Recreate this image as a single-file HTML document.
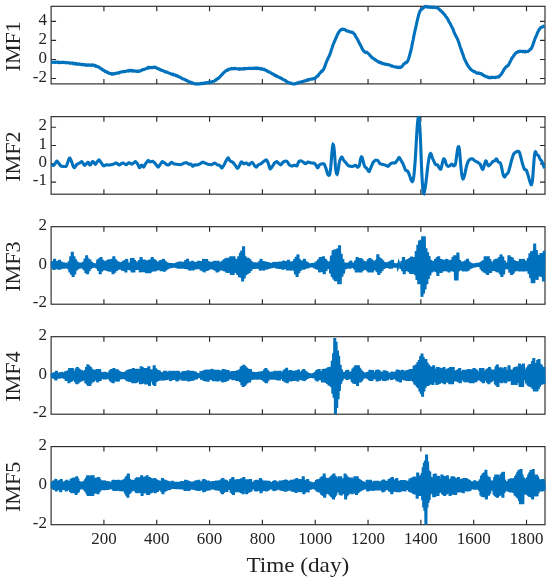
<!DOCTYPE html>
<html><head><meta charset="utf-8"><title>IMF decomposition</title>
<style>
html,body{margin:0;padding:0;background:#fff;}
svg{display:block;}
text{font-family:"Liberation Serif","DejaVu Serif",serif;fill:#222;}
.tk{font-size:17.5px;}
.yl{font-size:22px;}
.xl{font-size:22px;}
</style></head><body>
<svg width="550" height="584" viewBox="0 0 550 584">
<rect width="550" height="584" fill="#fff"/>
<defs>
<clipPath id="c0"><rect x="50.6" y="3.8" width="494.9" height="82.6"/></clipPath>
<clipPath id="c1"><rect x="50.6" y="114.15" width="494.9" height="82.55"/></clipPath>
<clipPath id="c2"><rect x="50.6" y="224.2" width="494.9" height="82.5"/></clipPath>
<clipPath id="c3"><rect x="50.6" y="334.2" width="494.9" height="82.5"/></clipPath>
<clipPath id="c4"><rect x="50.6" y="444.1" width="494.9" height="83.1"/></clipPath>
</defs>
<rect x="51.1" y="6.3" width="493.9" height="77.6" fill="none" stroke="#2a2a2a" stroke-width="1.15"/>
<path d="M103.92 83.9v-5.0M103.92 6.3v5.0M156.75 83.9v-5.0M156.75 6.3v5.0M209.57 83.9v-5.0M209.57 6.3v5.0M262.39 83.9v-5.0M262.39 6.3v5.0M315.22 83.9v-5.0M315.22 6.3v5.0M368.04 83.9v-5.0M368.04 6.3v5.0M420.86 83.9v-5.0M420.86 6.3v5.0M473.69 83.9v-5.0M473.69 6.3v5.0M526.51 83.9v-5.0M526.51 6.3v5.0M51.1 21.3h5.0M545 21.3h-5.0M51.1 40.4h5.0M545 40.4h-5.0M51.1 59.45h5.0M545 59.45h-5.0M51.1 78.5h5.0M545 78.5h-5.0" stroke="#2a2a2a" stroke-width="1.15" fill="none"/>
<text x="47" y="24.5" text-anchor="end" class="tk" textLength="8.49" lengthAdjust="spacingAndGlyphs">4</text>
<text x="47" y="43.6" text-anchor="end" class="tk" textLength="8.49" lengthAdjust="spacingAndGlyphs">2</text>
<text x="47" y="62.65" text-anchor="end" class="tk" textLength="8.49" lengthAdjust="spacingAndGlyphs">0</text>
<text x="47" y="81.7" text-anchor="end" class="tk" textLength="14.14" lengthAdjust="spacingAndGlyphs">-2</text>
<text transform="translate(20.1 46.3) rotate(-90)" text-anchor="middle" class="yl" textLength="50.4" lengthAdjust="spacingAndGlyphs">IMF1</text>
<rect x="51.1" y="116.65" width="493.9" height="77.55" fill="none" stroke="#2a2a2a" stroke-width="1.15"/>
<path d="M103.92 194.2v-5.0M103.92 116.65v5.0M156.75 194.2v-5.0M156.75 116.65v5.0M209.57 194.2v-5.0M209.57 116.65v5.0M262.39 194.2v-5.0M262.39 116.65v5.0M315.22 194.2v-5.0M315.22 116.65v5.0M368.04 194.2v-5.0M368.04 116.65v5.0M420.86 194.2v-5.0M420.86 116.65v5.0M473.69 194.2v-5.0M473.69 116.65v5.0M526.51 194.2v-5.0M526.51 116.65v5.0M51.1 127.2h5.0M545 127.2h-5.0M51.1 145.5h5.0M545 145.5h-5.0M51.1 163.8h5.0M545 163.8h-5.0M51.1 182.05h5.0M545 182.05h-5.0" stroke="#2a2a2a" stroke-width="1.15" fill="none"/>
<text x="47" y="130.4" text-anchor="end" class="tk" textLength="8.49" lengthAdjust="spacingAndGlyphs">2</text>
<text x="47" y="148.7" text-anchor="end" class="tk" textLength="8.49" lengthAdjust="spacingAndGlyphs">1</text>
<text x="47" y="167" text-anchor="end" class="tk" textLength="8.49" lengthAdjust="spacingAndGlyphs">0</text>
<text x="47" y="185.25" text-anchor="end" class="tk" textLength="14.14" lengthAdjust="spacingAndGlyphs">-1</text>
<text transform="translate(20.1 156.62) rotate(-90)" text-anchor="middle" class="yl" textLength="50.4" lengthAdjust="spacingAndGlyphs">IMF2</text>
<rect x="51.1" y="226.7" width="493.9" height="77.5" fill="none" stroke="#2a2a2a" stroke-width="1.15"/>
<path d="M103.92 304.2v-5.0M103.92 226.7v5.0M156.75 304.2v-5.0M156.75 226.7v5.0M209.57 304.2v-5.0M209.57 226.7v5.0M262.39 304.2v-5.0M262.39 226.7v5.0M315.22 304.2v-5.0M315.22 226.7v5.0M368.04 304.2v-5.0M368.04 226.7v5.0M420.86 304.2v-5.0M420.86 226.7v5.0M473.69 304.2v-5.0M473.69 226.7v5.0M526.51 304.2v-5.0M526.51 226.7v5.0M51.1 265.45h5.0M545 265.45h-5.0" stroke="#2a2a2a" stroke-width="1.15" fill="none"/>
<text x="47" y="229.9" text-anchor="end" class="tk" textLength="8.49" lengthAdjust="spacingAndGlyphs">2</text>
<text x="47" y="268.65" text-anchor="end" class="tk" textLength="8.49" lengthAdjust="spacingAndGlyphs">0</text>
<text x="47" y="307.4" text-anchor="end" class="tk" textLength="14.14" lengthAdjust="spacingAndGlyphs">-2</text>
<text transform="translate(20.1 266.65) rotate(-90)" text-anchor="middle" class="yl" textLength="50.4" lengthAdjust="spacingAndGlyphs">IMF3</text>
<rect x="51.1" y="336.7" width="493.9" height="77.5" fill="none" stroke="#2a2a2a" stroke-width="1.15"/>
<path d="M103.92 414.2v-5.0M103.92 336.7v5.0M156.75 414.2v-5.0M156.75 336.7v5.0M209.57 414.2v-5.0M209.57 336.7v5.0M262.39 414.2v-5.0M262.39 336.7v5.0M315.22 414.2v-5.0M315.22 336.7v5.0M368.04 414.2v-5.0M368.04 336.7v5.0M420.86 414.2v-5.0M420.86 336.7v5.0M473.69 414.2v-5.0M473.69 336.7v5.0M526.51 414.2v-5.0M526.51 336.7v5.0M51.1 375.45h5.0M545 375.45h-5.0" stroke="#2a2a2a" stroke-width="1.15" fill="none"/>
<text x="47" y="339.9" text-anchor="end" class="tk" textLength="8.49" lengthAdjust="spacingAndGlyphs">2</text>
<text x="47" y="378.65" text-anchor="end" class="tk" textLength="8.49" lengthAdjust="spacingAndGlyphs">0</text>
<text x="47" y="417.4" text-anchor="end" class="tk" textLength="14.14" lengthAdjust="spacingAndGlyphs">-2</text>
<text transform="translate(20.1 376.65) rotate(-90)" text-anchor="middle" class="yl" textLength="50.4" lengthAdjust="spacingAndGlyphs">IMF4</text>
<rect x="51.1" y="446.6" width="493.9" height="78.1" fill="none" stroke="#2a2a2a" stroke-width="1.15"/>
<path d="M103.92 524.7v-5.0M103.92 446.6v5.0M156.75 524.7v-5.0M156.75 446.6v5.0M209.57 524.7v-5.0M209.57 446.6v5.0M262.39 524.7v-5.0M262.39 446.6v5.0M315.22 524.7v-5.0M315.22 446.6v5.0M368.04 524.7v-5.0M368.04 446.6v5.0M420.86 524.7v-5.0M420.86 446.6v5.0M473.69 524.7v-5.0M473.69 446.6v5.0M526.51 524.7v-5.0M526.51 446.6v5.0M51.1 485.65h5.0M545 485.65h-5.0" stroke="#2a2a2a" stroke-width="1.15" fill="none"/>
<text x="47" y="449.8" text-anchor="end" class="tk" textLength="8.49" lengthAdjust="spacingAndGlyphs">2</text>
<text x="47" y="488.85" text-anchor="end" class="tk" textLength="8.49" lengthAdjust="spacingAndGlyphs">0</text>
<text x="47" y="527.9" text-anchor="end" class="tk" textLength="14.14" lengthAdjust="spacingAndGlyphs">-2</text>
<text transform="translate(20.1 486.85) rotate(-90)" text-anchor="middle" class="yl" textLength="50.4" lengthAdjust="spacingAndGlyphs">IMF5</text>
<polyline clip-path="url(#c0)" points="51.1,62.18 51.6,62.24 52.1,62.43 52.6,62.21 53.1,62.24 53.6,62.29 54.1,62.1 54.6,62.28 55.1,62.35 55.6,62.44 56.1,62.11 56.6,62.22 57.1,62.13 57.6,62.5 58.1,62.45 58.6,62.14 59.1,62.62 59.6,62.62 60.1,62.48 60.6,62.48 61.1,62.27 61.6,62.22 62.1,62.49 62.6,62.27 63.1,62.36 63.6,62.4 64.1,62.32 64.6,62.55 65.1,62.56 65.6,62.78 66.1,62.63 66.6,62.71 67.1,62.66 67.6,62.77 68.1,62.7 68.6,62.66 69.1,63.08 69.6,63.15 70.1,63.14 70.6,63.15 71.1,63.02 71.6,63.05 72.1,63.15 72.6,63.11 73.1,63.53 73.6,63.42 74.1,63.72 74.6,63.56 75.1,63.91 75.6,63.93 76.1,63.58 76.6,63.75 77.1,64.17 77.6,64.02 78.1,64.34 78.6,64.11 79.1,64 79.6,64.34 80.1,64.48 80.6,64.28 81.1,64.25 81.6,64.44 82.1,64.81 82.6,64.77 83.1,64.51 83.6,64.63 84.1,64.62 84.6,64.66 85.1,65.09 85.6,64.84 86.1,65.07 86.6,65.05 87.1,64.94 87.6,65.22 88.1,64.92 88.6,65.17 89.1,64.91 89.6,65.06 90.1,64.96 90.6,64.98 91.1,65.34 91.6,65.25 92.1,65 92.6,65.29 93.1,65 93.6,65.17 94.1,65.52 94.6,65.58 95.1,65.51 95.6,66.16 96.1,65.98 96.6,66.2 97.1,66.66 97.6,66.64 98.1,66.84 98.6,66.96 99.1,67.22 99.6,67.75 100.1,67.89 100.6,68.4 101.1,68.61 101.6,68.98 102.1,69.56 102.6,69.65 103.1,70.02 103.6,70.49 104.1,70.46 104.6,70.73 105.1,71.39 105.6,71.6 106.1,71.56 106.6,71.78 107.1,72.3 107.6,72.64 108.1,72.52 108.6,73.14 109.1,73.34 109.6,73.4 110.1,73.47 110.6,73.44 111.1,73.49 111.6,74.01 112.1,73.7 112.6,73.99 113.1,73.79 113.6,74.06 114.1,73.89 114.6,73.65 115.1,73.48 115.6,73.63 116.1,73.18 116.6,73.14 117.1,73.18 117.6,73.21 118.1,72.97 118.6,72.68 119.1,72.88 119.6,72.4 120.1,72.19 120.6,72.19 121.1,72.16 121.6,71.85 122.1,71.79 122.6,71.78 123.1,71.77 123.6,71.46 124.1,71.48 124.6,71.66 125.1,71.61 125.6,71.36 126.1,71.29 126.6,71.15 127.1,70.84 127.6,70.69 128.1,70.6 128.6,70.95 129.1,70.77 129.6,70.84 130.1,70.34 130.6,70.64 131.1,70.59 131.6,70.76 132.1,70.6 132.6,70.98 133.1,70.56 133.6,70.84 134.1,70.98 134.6,71.11 135.1,71.07 135.6,71.1 136.1,71.19 136.6,71.29 137.1,71.06 137.6,71.27 138.1,71.41 138.6,71.38 139.1,71.09 139.6,71.17 140.1,71.04 140.6,70.7 141.1,70.52 141.6,70.2 142.1,70.1 142.6,69.91 143.1,69.45 143.6,69.53 144.1,69.52 144.6,69.27 145.1,69.02 145.6,68.68 146.1,68.68 146.6,68.44 147.1,68.2 147.6,68.24 148.1,67.7 148.6,67.9 149.1,67.43 149.6,67.65 150.1,67.54 150.6,67.39 151.1,67.6 151.6,67.48 152.1,67.51 152.6,67.64 153.1,67.29 153.6,67.14 154.1,67.27 154.6,67.44 155.1,67.24 155.6,67.32 156.1,67.84 156.6,67.92 157.1,68.06 157.6,68.53 158.1,68.49 158.6,68.9 159.1,68.92 159.6,69.28 160.1,69.71 160.6,70 161.1,70.2 161.6,70.17 162.1,70.47 162.6,70.53 163.1,70.63 163.6,71 164.1,71.36 164.6,71.56 165.1,71.69 165.6,72 166.1,71.86 166.6,71.99 167.1,72.33 167.6,72.43 168.1,72.58 168.6,72.87 169.1,73.15 169.6,73.26 170.1,73.35 170.6,73.79 171.1,74.04 171.6,73.95 172.1,73.94 172.6,74.1 173.1,74.7 173.6,74.46 174.1,74.97 174.6,75.08 175.1,75.12 175.6,75.54 176.1,75.33 176.6,75.58 177.1,75.94 177.6,75.94 178.1,76.57 178.6,76.51 179.1,76.71 179.6,76.91 180.1,77.45 180.6,77.61 181.1,77.94 181.6,78.2 182.1,78.53 182.6,78.85 183.1,78.96 183.6,78.97 184.1,79.35 184.6,79.45 185.1,79.61 185.6,80.09 186.1,80.45 186.6,80.42 187.1,80.69 187.6,80.96 188.1,81.35 188.6,81.49 189.1,81.76 189.6,82.05 190.1,82.09 190.6,82.51 191.1,82.79 191.6,82.6 192.1,83.23 192.6,83.29 193.1,83.13 193.6,83.41 194.1,83.58 194.6,83.79 195.1,83.6 195.6,83.78 196.1,84.01 196.6,84.03 197.1,84.13 197.6,83.89 198.1,83.96 198.6,83.69 199.1,83.89 199.6,83.87 200.1,83.72 200.6,83.7 201.1,83.38 201.6,83.66 202.1,83.64 202.6,83.58 203.1,83.29 203.6,83.36 204.1,83.06 204.6,83.28 205.1,83.18 205.6,82.85 206.1,82.64 206.6,82.74 207.1,82.71 207.6,82.74 208.1,82.52 208.6,82.21 209.1,82.53 209.6,82.07 210.1,82.36 210.6,81.97 211.1,81.97 211.6,82.12 212.1,81.68 212.6,81.53 213.1,81.51 213.6,81.36 214.1,81.13 214.6,80.75 215.1,80.58 215.6,80.06 216.1,79.98 216.6,79.25 217.1,79.02 217.6,78.84 218.1,78.33 218.6,78.12 219.1,77.6 219.6,77.02 220.1,76.65 220.6,75.98 221.1,75.32 221.6,74.82 222.1,74.53 222.6,74.02 223.1,73.14 223.6,72.94 224.1,72.52 224.6,71.87 225.1,71.51 225.6,70.99 226.1,70.86 226.6,70.54 227.1,70.29 227.6,69.7 228.1,69.88 228.6,69.41 229.1,69.16 229.6,69.21 230.1,68.99 230.6,68.89 231.1,68.92 231.6,68.54 232.1,68.72 232.6,68.59 233.1,68.81 233.6,68.78 234.1,68.45 234.6,68.57 235.1,68.44 235.6,68.63 236.1,68.86 236.6,68.94 237.1,68.77 237.6,68.73 238.1,68.71 238.6,68.96 239.1,69.16 239.6,68.8 240.1,69.16 240.6,68.81 241.1,68.89 241.6,68.9 242.1,69.1 242.6,68.87 243.1,68.84 243.6,68.93 244.1,68.63 244.6,68.9 245.1,68.55 245.6,68.7 246.1,68.53 246.6,68.46 247.1,68.58 247.6,68.49 248.1,68.42 248.6,68.4 249.1,68.43 249.6,68.22 250.1,68.23 250.6,68.43 251.1,68.42 251.6,68.35 252.1,68.5 252.6,68.37 253.1,68.48 253.6,68.16 254.1,68.4 254.6,68.42 255.1,68.45 255.6,68.15 256.1,68.14 256.6,68.44 257.1,68.11 257.6,68.54 258.1,68.55 258.6,68.25 259.1,68.39 259.6,68.73 260.1,68.59 260.6,68.59 261.1,69.05 261.6,68.94 262.1,69.21 262.6,68.97 263.1,69.2 263.6,69.44 264.1,69.24 264.6,69.51 265.1,69.96 265.6,70.32 266.1,70.63 266.6,70.49 267.1,70.96 267.6,71.37 268.1,71.52 268.6,71.9 269.1,71.93 269.6,72.15 270.1,72.45 270.6,72.69 271.1,73.23 271.6,73.48 272.1,73.78 272.6,73.83 273.1,74.1 273.6,74.36 274.1,74.93 274.6,75.26 275.1,75.48 275.6,75.32 276.1,75.55 276.6,76.25 277.1,76.26 277.6,76.66 278.1,76.7 278.6,77.02 279.1,77.3 279.6,77.51 280.1,77.85 280.6,77.81 281.1,78.42 281.6,78.76 282.1,78.71 282.6,79.12 283.1,79.54 283.6,79.65 284.1,79.83 284.6,80.09 285.1,80.54 285.6,80.57 286.1,81.29 286.6,81.52 287.1,81.75 287.6,82.1 288.1,82.26 288.6,82.39 289.1,82.71 289.6,82.85 290.1,83.25 290.6,83.3 291.1,83.17 291.6,83.64 292.1,83.7 292.6,83.86 293.1,83.96 293.6,83.8 294.1,84.03 294.6,83.95 295.1,83.74 295.6,83.65 296.1,83.53 296.6,83.23 297.1,83.27 297.6,82.82 298.1,82.84 298.6,82.77 299.1,82.4 299.6,82.42 300.1,82.41 300.6,82.24 301.1,81.88 301.6,82.07 302.1,81.77 302.6,81.44 303.1,81.44 303.6,81.23 304.1,81.06 304.6,80.84 305.1,81 305.6,80.69 306.1,80.59 306.6,80.5 307.1,80.48 307.6,79.87 308.1,80.04 308.6,79.98 309.1,79.61 309.6,79.56 310.1,79.26 310.6,79.22 311.1,79.19 311.6,78.94 312.1,78.91 312.6,79.13 313.1,78.84 313.6,78.69 314.1,78.74 314.6,78.3 315.1,78.21 315.6,77.68 316.1,77.36 316.6,76.59 317.1,76.44 317.6,76.08 318.1,75.22 318.6,75.12 319.1,74.13 319.6,73.64 320.1,72.84 320.6,72.41 321.1,71.95 321.6,71.21 322.1,71.26 322.6,70.65 323.1,70.14 323.6,69.38 324.1,68.24 324.6,66.96 325.1,65.68 325.6,64.21 326.1,62.73 326.6,61.7 327.1,60.33 327.6,59.12 328.1,58.23 328.6,57.11 329.1,56.13 329.6,55.26 330.1,53.77 330.6,52.59 331.1,50.96 331.6,48.94 332.1,47.83 332.6,46.33 333.1,44.52 333.6,43.67 334.1,42.26 334.6,41.14 335.1,40.24 335.6,38.71 336.1,37.68 336.6,36.71 337.1,35.42 337.6,34.21 338.1,33.5 338.6,32.59 339.1,31.78 339.6,30.96 340.1,30.68 340.6,30.15 341.1,29.67 341.6,29.33 342.1,29.4 342.6,29.1 343.1,29.24 343.6,29.39 344.1,29.39 344.6,29.47 345.1,29.87 345.6,30.03 346.1,30.46 346.6,30.57 347.1,31.02 347.6,31.2 348.1,31.28 348.6,31.2 349.1,31.31 349.6,31.85 350.1,31.95 350.6,32.01 351.1,32 351.6,32.09 352.1,32.42 352.6,32.48 353.1,32.77 353.6,33.21 354.1,33.84 354.6,34.27 355.1,35.17 355.6,36.4 356.1,37.23 356.6,38.09 357.1,38.58 357.6,39.52 358.1,40.57 358.6,41.63 359.1,42.71 359.6,43.44 360.1,44.64 360.6,45.37 361.1,46.33 361.6,47.56 362.1,48.42 362.6,49.37 363.1,50.14 363.6,50.96 364.1,51.42 364.6,51.9 365.1,52.35 365.6,52.46 366.1,52.11 366.6,52.23 367.1,52.77 367.6,52.97 368.1,53.45 368.6,53.67 369.1,54.32 369.6,54.78 370.1,55.6 370.6,55.93 371.1,56.59 371.6,57.25 372.1,57.37 372.6,57.89 373.1,58.37 373.6,58.82 374.1,58.94 374.6,59.27 375.1,59.5 375.6,60.25 376.1,60.22 376.6,60.56 377.1,61.12 377.6,61.37 378.1,61.72 378.6,61.76 379.1,62.21 379.6,62.07 380.1,62.36 380.6,62.8 381.1,62.72 381.6,63.04 382.1,63.47 382.6,63.67 383.1,63.65 383.6,63.73 384.1,63.95 384.6,64.22 385.1,64.1 385.6,64.03 386.1,64.38 386.6,64.36 387.1,64.59 387.6,64.68 388.1,64.77 388.6,64.67 389.1,65.02 389.6,64.97 390.1,65.18 390.6,65.43 391.1,65.9 391.6,66.08 392.1,65.96 392.6,66.22 393.1,66.4 393.6,66.55 394.1,66.68 394.6,66.77 395.1,66.73 395.6,66.98 396.1,67.16 396.6,67.09 397.1,67.3 397.6,67.22 398.1,67.09 398.6,67.45 399.1,67.57 399.6,67.33 400.1,67.21 400.6,67.33 401.1,67.09 401.6,66.72 402.1,66.4 402.6,65.65 403.1,65.12 403.6,64.17 404.1,63.9 404.6,63.59 405.1,62.88 405.6,62.59 406.1,62.69 406.6,62.54 407.1,61.73 407.6,61.28 408.1,60.02 408.6,58.99 409.1,57.3 409.6,55.34 410.1,53.51 410.6,51.81 411.1,49.56 411.6,47.4 412.1,44.78 412.6,42.22 413.1,40.01 413.6,37.35 414.1,34.81 414.6,32.45 415.1,30.22 415.6,27.96 416.1,25.86 416.6,23.4 417.1,21.41 417.6,19.19 418.1,17.24 418.6,15.25 419.1,13.45 419.6,12.05 420.1,10.98 420.6,10.03 421.1,9.48 421.6,9.33 422.1,9.09 422.6,8.56 423.1,8.16 423.6,7.57 424.1,7.41 424.6,7.18 425.1,6.64 425.6,6.43 426.1,6.46 426.6,6.66 427.1,6.68 427.6,7.11 428.1,6.74 428.6,6.96 429.1,6.95 429.6,7.28 430.1,7.41 430.6,7.15 431.1,7.13 431.6,7.35 432.1,7.43 432.6,7.61 433.1,7.2 433.6,7.25 434.1,7.31 434.6,7.35 435.1,7.38 435.6,7.64 436.1,7.6 436.6,7.48 437.1,7.62 437.6,7.91 438.1,8.18 438.6,8.88 439.1,9.11 439.6,9.67 440.1,10.25 440.6,10.52 441.1,10.86 441.6,11.62 442.1,12.1 442.6,12.33 443.1,12.98 443.6,13.77 444.1,14.16 444.6,14.66 445.1,15.2 445.6,16.28 446.1,16.84 446.6,17.3 447.1,18.12 447.6,18.94 448.1,19.72 448.6,21.05 449.1,21.87 449.6,22.63 450.1,23.45 450.6,24.58 451.1,25.41 451.6,26.47 452.1,27.39 452.6,28.42 453.1,29.41 453.6,30.73 454.1,32.12 454.6,33.29 455.1,34.66 455.6,35.42 456.1,36.3 456.6,37.37 457.1,38.04 457.6,39.34 458.1,40.43 458.6,42.16 459.1,43.25 459.6,45.14 460.1,46.62 460.6,48.07 461.1,49.15 461.6,50.69 462.1,52.35 462.6,53.47 463.1,55.09 463.6,56.5 464.1,58.06 464.6,59.11 465.1,60.39 465.6,61.17 466.1,62.4 466.6,63.2 467.1,64.44 467.6,64.94 468.1,66.15 468.6,66.59 469.1,67.43 469.6,68.01 470.1,68.39 470.6,69.3 471.1,69.57 471.6,70.03 472.1,70.31 472.6,70.75 473.1,71.1 473.6,71.46 474.1,71.52 474.6,71.92 475.1,71.86 475.6,72.24 476.1,72.51 476.6,72.98 477.1,73.1 477.6,73.16 478.1,72.95 478.6,73.22 479.1,73.46 479.6,73.29 480.1,73.54 480.6,73.63 481.1,73.6 481.6,74.34 482.1,74.55 482.6,74.59 483.1,75.12 483.6,75.29 484.1,75.63 484.6,75.97 485.1,76.09 485.6,76.31 486.1,76.51 486.6,76.83 487.1,76.8 487.6,76.95 488.1,77.39 488.6,77.32 489.1,77.72 489.6,77.58 490.1,77.68 490.6,77.46 491.1,77.69 491.6,77.31 492.1,77.32 492.6,77.28 493.1,77.56 493.6,77.55 494.1,77.27 494.6,77.37 495.1,77.57 495.6,77.43 496.1,77.16 496.6,77.22 497.1,77.16 497.6,77.05 498.1,77 498.6,76.54 499.1,76.57 499.6,75.82 500.1,75.35 500.6,74.91 501.1,74.41 501.6,73.79 502.1,72.86 502.6,72.04 503.1,71.2 503.6,70.1 504.1,69.39 504.6,68.66 505.1,68.06 505.6,67.37 506.1,66.85 506.6,66.51 507.1,66.01 507.6,65.82 508.1,65.32 508.6,64.79 509.1,63.67 509.6,62.78 510.1,61.79 510.6,60.88 511.1,59.89 511.6,58.86 512.1,57.78 512.6,57.32 513.1,56.71 513.6,55.88 514.1,55.13 514.6,54.55 515.1,53.72 515.6,53.39 516.1,53.02 516.6,52.39 517.1,52.2 517.6,52.07 518.1,51.62 518.6,51.87 519.1,51.59 519.6,51.29 520.1,51.18 520.6,51.24 521.1,51.41 521.6,51.51 522.1,51.36 522.6,51.69 523.1,51.44 523.6,51.53 524.1,51.39 524.6,51.85 525.1,51.47 525.6,51.89 526.1,51.74 526.6,51.73 527.1,51.63 527.6,51.29 528.1,51.33 528.6,51.01 529.1,50.52 529.6,50.01 530.1,49.37 530.6,49.32 531.1,48.52 531.6,48.07 532.1,46.76 532.6,45.72 533.1,44.42 533.6,42.59 534.1,41.32 534.6,39.69 535.1,38.34 535.6,37.13 536.1,36.31 536.6,35.05 537.1,33.68 537.6,32.36 538.1,31.48 538.6,30.55 539.1,29.53 539.6,28.99 540.1,28.56 540.6,27.74 541.1,27.5 541.6,27.38 542.1,26.97 542.6,26.84 543.1,26.67 543.6,26.19 544.1,26.14 544.6,25.83" fill="none" stroke="#0072BD" stroke-width="3.1" stroke-linejoin="miter" stroke-miterlimit="4" stroke-linecap="butt"/>
<polyline clip-path="url(#c1)" points="51.45,164.78 51.85,164.89 52.25,165.06 52.65,165.23 53.05,165.39 53.45,165.42 53.85,165.19 54.25,164.71 54.65,164.11 55.05,163.51 55.45,162.91 55.85,162.31 56.25,161.71 56.65,161.25 57.05,161.18 57.45,161.5 57.85,162.07 58.25,162.63 58.65,163.2 59.05,163.75 59.45,164.29 59.85,164.81 60.25,165.33 60.65,165.79 61.05,166.1 61.45,166.25 61.85,166.31 62.25,166.36 62.65,166.41 63.05,166.47 63.45,166.51 63.85,166.54 64.25,166.55 64.65,166.55 65.05,166.55 65.45,166.55 65.85,166.55 66.25,166.25 66.65,165.56 67.05,164.47 67.45,163.27 67.85,162.08 68.25,160.96 68.65,159.91 69.05,158.91 69.45,158.24 69.85,158.16 70.25,158.69 70.65,159.49 71.05,160.29 71.45,161.22 71.85,162.29 72.25,163.49 72.65,164.69 73.05,165.78 73.45,166.62 73.85,167.21 74.25,167.56 74.65,167.52 75.05,167.08 75.45,166.36 75.85,165.64 76.25,165.05 76.65,164.62 77.05,164.36 77.45,164.15 77.85,163.93 78.25,163.72 78.65,163.51 79.05,163.28 79.45,163.03 79.85,162.76 80.25,162.5 80.65,162.23 81.05,161.96 81.45,161.72 81.85,161.78 82.25,162.12 82.65,162.74 83.05,163.35 83.45,163.96 83.85,164.58 84.25,165.1 84.65,165.28 85.05,165.13 85.45,164.73 85.85,164.33 86.25,163.93 86.65,163.53 87.05,163.13 87.45,162.73 87.85,162.4 88.25,162.47 88.65,162.95 89.05,163.75 89.45,164.55 89.85,165.03 90.25,165.03 90.65,164.55 91.05,163.88 91.45,163.21 91.85,162.55 92.25,161.88 92.65,161.54 93.05,161.6 93.45,162.06 93.85,162.59 94.25,163.13 94.65,163.66 95.05,164.19 95.45,164.3 95.85,163.98 96.25,163.23 96.65,162.52 97.05,161.91 97.45,161.41 97.85,160.98 98.25,160.54 98.65,160.11 99.05,159.99 99.45,160.21 99.85,160.78 100.25,161.38 100.65,161.98 101.05,162.57 101.45,163.15 101.85,163.71 102.25,164.27 102.65,164.82 103.05,165.38 103.45,165.79 103.85,165.95 104.25,165.85 104.65,165.64 105.05,165.43 105.45,165.21 105.85,165 106.25,164.85 106.65,164.79 107.05,164.82 107.45,164.87 107.85,164.93 108.25,164.98 108.65,165.03 109.05,165.05 109.45,165.01 109.85,164.94 110.25,164.86 110.65,164.78 111.05,164.7 111.45,164.62 111.85,164.54 112.25,164.46 112.65,164.36 113.05,164.23 113.45,164.07 113.85,163.91 114.25,163.75 114.65,163.59 115.05,163.43 115.45,163.27 115.85,163.11 116.25,163.07 116.65,163.19 117.05,163.46 117.45,163.78 117.85,164.1 118.25,164.42 118.65,164.74 119.05,164.89 119.45,164.86 119.85,164.63 120.25,164.39 120.65,164.15 121.05,163.91 121.45,163.67 121.85,163.43 122.25,163.19 122.65,163.07 123.05,163.1 123.45,163.27 123.85,163.47 124.25,163.67 124.65,163.87 125.05,164.07 125.45,164.27 125.85,164.47 126.25,164.55 126.65,164.45 127.05,164.17 127.45,163.85 127.85,163.53 128.25,163.21 128.65,162.89 129.05,162.75 129.45,162.81 129.85,163.05 130.25,163.32 130.65,163.59 131.05,163.85 131.45,164.1 131.85,164.16 132.25,164.01 132.65,163.69 133.05,163.37 133.45,163.05 133.85,162.73 134.25,162.41 134.65,162.09 135.05,161.77 135.45,161.71 135.85,161.89 136.25,162.32 136.65,162.75 137.05,163.19 137.45,163.71 137.85,164.39 138.25,165.24 138.65,166.16 139.05,167.08 139.45,167.51 139.85,167.45 140.25,166.89 140.65,166.34 141.05,165.78 141.45,165.27 141.85,165.13 142.25,165.38 142.65,165.98 143.05,166.58 143.45,166.93 143.85,166.81 144.25,166.22 144.65,165.42 145.05,164.62 145.45,163.91 145.85,163.28 146.25,162.75 146.65,162.22 147.05,161.68 147.45,161.15 147.85,160.67 148.25,160.51 148.65,160.65 149.05,161.05 149.45,161.45 149.85,161.74 150.25,161.85 150.65,161.78 151.05,161.65 151.45,161.52 151.85,161.38 152.25,161.25 152.65,161.26 153.05,161.45 153.45,161.82 153.85,162.22 154.25,162.62 154.65,163.02 155.05,163.42 155.45,163.86 155.85,164.35 156.25,164.88 156.65,165.42 157.05,165.95 157.45,166.48 157.85,166.95 158.25,167.04 158.65,166.75 159.05,166.15 159.45,165.55 159.85,164.96 160.25,164.38 160.65,163.82 161.05,163.27 161.45,162.71 161.85,162.16 162.25,161.8 162.65,161.72 163.05,161.92 163.45,162.18 163.85,162.45 164.25,162.72 164.65,163.01 165.05,163.32 165.45,163.64 165.85,163.96 166.25,164.28 166.65,164.6 167.05,164.86 167.45,164.98 167.85,164.97 168.25,164.89 168.65,164.81 169.05,164.62 169.45,164.3 169.85,163.85 170.25,163.38 170.65,162.92 171.05,162.46 171.45,162.26 171.85,162.33 172.25,162.67 172.65,163 173.05,163.33 173.45,163.62 173.85,163.81 174.25,163.91 174.65,163.97 175.05,164.03 175.45,164.09 175.85,164.15 176.25,164.21 176.65,164.27 177.05,164.33 177.45,164.38 177.85,164.42 178.25,164.46 178.65,164.5 179.05,164.54 179.45,164.58 179.85,164.62 180.25,164.66 180.65,164.67 181.05,164.6 181.45,164.44 181.85,164.22 182.25,164.01 182.65,163.8 183.05,163.58 183.45,163.39 183.85,163.23 184.25,163.11 184.65,163 185.05,162.89 185.45,162.79 185.85,162.68 186.25,162.67 186.65,162.77 187.05,163.01 187.45,163.27 187.85,163.54 188.25,163.81 188.65,164.07 189.05,164.22 189.45,164.24 189.85,164.13 190.25,164.01 190.65,163.98 191.05,164.19 191.45,164.64 191.85,165.24 192.25,165.84 192.65,166.16 193.05,166.16 193.45,165.82 193.85,165.42 194.25,165.06 194.65,164.85 195.05,164.8 195.45,164.85 195.85,164.9 196.25,164.96 196.65,165.01 197.05,165.03 197.45,164.96 197.85,164.82 198.25,164.63 198.65,164.45 199.05,164.26 199.45,164.07 199.85,163.87 200.25,163.64 200.65,163.38 201.05,163.12 201.45,162.85 201.85,162.58 202.25,162.32 202.65,162.17 203.05,162.18 203.45,162.34 203.85,162.53 204.25,162.71 204.65,162.9 205.05,163.09 205.45,163.26 205.85,163.43 206.25,163.59 206.65,163.75 207.05,163.91 207.45,164.07 207.85,164.23 208.25,164.34 208.65,164.41 209.05,164.45 209.45,164.49 209.85,164.53 210.25,164.57 210.65,164.61 211.05,164.65 211.45,164.68 211.85,164.61 212.25,164.44 212.65,164.17 213.05,163.9 213.45,163.64 213.85,163.37 214.25,163.15 214.65,163.11 215.05,163.25 215.45,163.52 215.85,163.78 216.25,164.05 216.65,164.32 217.05,164.56 217.45,164.76 217.85,164.92 218.25,165.05 218.65,165.19 219.05,165.32 219.45,165.45 219.85,165.69 220.25,166.07 220.65,166.62 221.05,167.22 221.45,167.78 221.85,167.94 222.25,167.69 222.65,167.08 223.05,166.46 223.45,165.85 223.85,165.22 224.25,164.52 224.65,163.74 225.05,162.91 225.45,162.08 225.85,161.24 226.25,160.47 226.65,159.77 227.05,159.15 227.45,158.55 227.85,158.03 228.25,157.98 228.65,158.4 229.05,159.2 229.45,160 229.85,160.66 230.25,161.09 230.65,161.31 231.05,161.44 231.45,161.58 231.85,161.71 232.25,161.84 232.65,162.08 233.05,162.46 233.45,162.97 233.85,163.5 234.25,164.04 234.65,164.57 235.05,165.1 235.45,165.65 235.85,166.2 236.25,166.77 236.65,167.34 237.05,167.9 237.45,168.24 237.85,168.17 238.25,167.68 238.65,167 239.05,166.32 239.45,165.56 239.85,164.72 240.25,163.8 240.65,162.88 241.05,162.16 241.45,161.88 241.85,162.04 242.25,162.44 242.65,162.84 243.05,163.24 243.45,163.54 243.85,163.66 244.25,163.61 244.65,163.48 245.05,163.35 245.45,163.21 245.85,163.08 246.25,163.06 246.65,163.18 247.05,163.46 247.45,163.78 247.85,164.1 248.25,164.42 248.65,164.74 249.05,164.8 249.45,164.56 249.85,164.07 250.25,163.63 250.65,163.27 251.05,162.94 251.45,162.61 251.85,162.33 252.25,162.37 252.65,162.73 253.05,163.34 253.45,163.96 253.85,164.57 254.25,165.17 254.65,165.69 255.05,166.15 255.45,166.55 255.85,166.95 256.25,167.1 256.65,166.93 257.05,166.42 257.45,165.82 257.85,165.25 258.25,164.83 258.65,164.57 259.05,164.44 259.45,164.3 259.85,164.17 260.25,164.04 260.65,163.88 261.05,163.65 261.45,163.35 261.85,163 262.25,162.65 262.65,162.31 263.05,161.96 263.45,161.63 263.85,161.32 264.25,161.04 264.65,160.78 265.05,160.51 265.45,160.24 265.85,159.98 266.25,159.95 266.65,160.25 267.05,160.88 267.45,161.6 267.85,162.36 268.25,163.35 268.65,164.56 269.05,165.96 269.45,167.36 269.85,168.38 270.25,168.8 270.65,168.62 271.05,168.22 271.45,167.81 271.85,167.31 272.25,166.73 272.65,166.06 273.05,165.39 273.45,164.73 273.85,164.06 274.25,163.43 274.65,162.94 275.05,162.6 275.45,162.35 275.85,162.1 276.25,161.86 276.65,161.69 277.05,161.76 277.45,162.05 277.85,162.48 278.25,162.91 278.65,163.35 279.05,163.73 279.45,164.07 279.85,164.35 280.25,164.63 280.65,164.81 281.05,164.71 281.45,164.32 281.85,163.75 282.25,163.18 282.65,162.62 283.05,162.18 283.45,161.87 283.85,161.71 284.25,161.55 284.65,161.4 285.05,161.24 285.45,161.17 285.85,161.17 286.25,161.25 286.65,161.33 287.05,161.51 287.45,161.9 287.85,162.5 288.25,163.22 288.65,163.94 289.05,164.51 289.45,164.91 289.85,165.13 290.25,165.35 290.65,165.56 291.05,165.77 291.45,165.98 291.85,166.05 292.25,166.01 292.65,165.85 293.05,165.69 293.45,165.53 293.85,165.37 294.25,165.24 294.65,165.22 295.05,165.33 295.45,165.51 295.85,165.7 296.25,165.88 296.65,165.92 297.05,165.54 297.45,164.76 297.85,163.72 298.25,162.68 298.65,161.89 299.05,161.4 299.45,161.21 299.85,161.08 300.25,160.95 300.65,160.86 301.05,160.89 301.45,161.05 301.85,161.28 302.25,161.51 302.65,161.75 303.05,162 303.45,162.28 303.85,162.59 304.25,162.9 304.65,163.2 305.05,163.51 305.45,163.61 305.85,163.51 306.25,163.2 306.65,162.9 307.05,162.59 307.45,162.29 307.85,162.14 308.25,162.13 308.65,162.25 309.05,162.36 309.45,162.48 309.85,162.6 310.25,162.72 310.65,162.82 311.05,162.91 311.45,162.96 311.85,163 312.25,163.04 312.65,163.08 313.05,163.12 313.45,163.16 313.85,163.2 314.25,163.29 314.65,163.53 315.05,163.93 315.45,164.45 315.85,164.97 316.25,165.58 316.65,166.29 317.05,167.12 317.45,167.67 317.85,167.68 318.25,167.13 318.65,166.33 319.05,165.53 319.45,164.94 319.85,164.57 320.25,164.42 320.65,164.27 321.05,164.11 321.45,163.96 321.85,163.86 322.25,163.82 322.65,163.82 323.05,163.82 323.45,163.82 323.85,163.88 324.25,164.27 324.65,165 325.05,166 325.45,167 325.85,168.08 326.25,169.3 326.65,170.65 327.05,172.05 327.45,173.42 327.85,174.38 328.25,174.95 328.65,175.15 329.05,175.35 329.45,174.99 329.85,173.61 330.25,171.22 330.65,168.02 331.05,163.86 331.45,158.75 331.85,153.26 332.25,148.95 332.65,145.84 333.05,144.48 333.45,144.82 333.85,146.87 334.25,150.22 334.65,154.99 335.05,161.16 335.45,166.63 335.85,170.36 336.25,172.36 336.65,173.91 337.05,174.23 337.45,173.3 337.85,171.52 338.25,169.35 338.65,166.81 339.05,163.95 339.45,161.79 339.85,160.32 340.25,159.55 340.65,158.78 341.05,158.01 341.45,157.29 341.85,157.09 342.25,157.42 342.65,158.22 343.05,159.02 343.45,159.76 343.85,160.38 344.25,160.9 344.65,161.36 345.05,161.82 345.45,162.28 345.85,162.75 346.25,163.23 346.65,163.73 347.05,164.23 347.45,164.73 347.85,165.2 348.25,165.55 348.65,165.78 349.05,165.9 349.45,166.02 349.85,166.12 350.25,166.21 350.65,166.27 351.05,166.32 351.45,166.38 351.85,166.43 352.25,166.48 352.65,166.46 353.05,166.35 353.45,166.16 353.85,165.94 354.25,165.73 354.65,165.52 355.05,165.3 355.45,165.31 355.85,165.52 356.25,165.96 356.65,166.39 357.05,166.82 357.45,167.11 357.85,167.11 358.25,166.84 358.65,166.44 359.05,166.04 359.45,164.88 359.85,162.97 360.25,160.48 360.65,158.66 361.05,157.49 361.45,156.87 361.85,157 362.25,157.86 362.65,159.41 363.05,160.94 363.45,162.45 363.85,163.95 364.25,165.35 364.65,166.35 365.05,166.97 365.45,167.3 365.85,167.64 366.25,167.97 366.65,168.38 367.05,168.88 367.45,169.48 367.85,170.1 368.25,170.71 368.65,171.33 369.05,171.45 369.45,171.04 369.85,170.09 370.25,169.09 370.65,168.1 371.05,167.14 371.45,166.2 371.85,165.27 372.25,164.35 372.65,163.43 373.05,162.59 373.45,161.96 373.85,161.52 374.25,161.18 374.65,160.85 375.05,160.52 375.45,160.29 375.85,160.18 376.25,160.18 376.65,160.18 377.05,160.18 377.45,160.29 377.85,160.61 378.25,161.13 378.65,161.75 379.05,162.36 379.45,162.98 379.85,163.48 380.25,163.81 380.65,163.97 381.05,164.06 381.45,164.15 381.85,164.25 382.25,164.34 382.65,164.43 383.05,164.53 383.45,164.62 383.85,164.71 384.25,164.81 384.65,164.9 385.05,165 385.45,165.13 385.85,165.3 386.25,165.52 386.65,165.73 387.05,165.94 387.45,166.16 387.85,166.33 388.25,166.26 388.65,165.95 389.05,165.45 389.45,164.95 389.85,164.45 390.25,164.04 390.65,163.74 391.05,163.55 391.45,163.4 391.85,163.24 392.25,163.09 392.65,162.98 393.05,162.92 393.45,162.91 393.85,162.91 394.25,162.91 394.65,162.91 395.05,162.91 395.45,162.71 395.85,162.31 396.25,161.71 396.65,161.11 397.05,160.51 397.45,159.89 397.85,159.24 398.25,158.55 398.65,157.85 399.05,157.57 399.45,157.75 399.85,158.39 400.25,159.07 400.65,159.75 401.05,160.42 401.45,161.09 401.85,161.76 402.25,162.42 402.65,163.09 403.05,163.88 403.45,164.81 403.85,165.87 404.25,166.95 404.65,168.03 405.05,169.1 405.45,169.87 405.85,170.34 406.25,170.49 406.65,170.64 407.05,170.8 407.45,170.98 407.85,171.44 408.25,172.18 408.65,173.18 409.05,174.18 409.45,175.22 409.85,176.32 410.25,177.49 410.65,178.69 411.05,179.89 411.45,180.79 411.85,181.38 412.25,181.66 412.65,181.32 413.05,180.23 413.45,178.36 413.85,175.73 414.25,172.09 414.65,167.45 415.05,162.45 415.45,156.65 415.85,150.03 416.25,142.6 416.65,135.56 417.05,129 417.45,123.69 417.85,119.92 418.25,117.89 418.65,117.64 419.05,118.5 419.45,121.96 419.85,127.18 420.25,134.64 420.65,143.76 421.05,154.55 421.45,165.08 421.85,174.15 422.25,180.99 422.65,186.81 423.05,190.78 423.45,193.19 423.85,193.5 424.25,192.46 424.65,190.53 425.05,188.55 425.45,186.07 425.85,183.12 426.25,179.69 426.65,176.24 427.05,172.77 427.45,169.27 427.85,165.85 428.25,162.84 428.65,160.25 429.05,158 429.45,156.06 429.85,154.67 430.25,153.84 430.65,153.52 431.05,153.85 431.45,154.86 431.85,156.25 432.25,157.47 432.65,158.52 433.05,159.42 433.45,160.31 433.85,161.2 434.25,162.09 434.65,162.97 435.05,163.85 435.45,164.43 435.85,164.73 436.25,164.73 436.65,164.73 437.05,164.73 437.45,164.87 437.85,165.28 438.25,165.96 438.65,166.76 439.05,167.56 439.45,168.23 439.85,168.76 440.25,169.16 440.65,169.28 441.05,168.64 441.45,167.23 441.85,165.33 442.25,163.54 442.65,161.91 443.05,160.44 443.45,159.35 443.85,158.86 444.25,158.98 444.65,159.5 445.05,160.36 445.45,161.55 445.85,162.95 446.25,164.1 446.65,164.93 447.05,165.42 447.45,165.82 447.85,166.18 448.25,166.35 448.65,166.31 449.05,166.11 449.45,165.91 449.85,165.67 450.25,165.36 450.65,164.98 451.05,164.58 451.45,164.21 451.85,164.14 452.25,164.39 452.65,164.91 453.05,165.43 453.45,165.79 453.85,165.88 454.25,165.69 454.65,165.37 455.05,165.05 455.45,163.83 455.85,161.73 456.25,158.73 456.65,155.78 457.05,152.97 457.45,150.31 457.85,147.95 458.25,146.73 458.65,146.65 459.05,147.51 459.45,149.86 459.85,153.7 460.25,158.91 460.65,163.68 461.05,168 461.45,171.92 461.85,174.92 462.25,177.01 462.65,178.26 463.05,178.81 463.45,178.56 463.85,177.54 464.25,176.35 464.65,174.87 465.05,173.09 465.45,171.09 465.85,169.09 466.25,167.28 466.65,165.75 467.05,164.47 467.45,163.27 467.85,162.12 468.25,161.24 468.65,160.62 469.05,160.22 469.45,159.82 469.85,159.42 470.25,159.12 470.65,158.95 471.05,158.91 471.45,158.91 471.85,158.91 472.25,158.91 472.65,159.01 473.05,159.23 473.45,159.58 473.85,159.95 474.25,160.32 474.65,160.69 475.05,161 475.45,161.24 475.85,161.41 476.25,161.58 476.65,161.74 477.05,161.92 477.45,162.14 477.85,162.39 478.25,162.65 478.65,162.92 479.05,163.19 479.45,163.45 479.85,163.88 480.25,164.54 480.65,165.45 481.05,166.45 481.45,167.44 481.85,168.24 482.25,168.86 482.65,169.32 483.05,169.14 483.45,168.25 483.85,166.67 484.25,165.08 484.65,163.7 485.05,162.55 485.45,161.55 485.85,161 486.25,161.17 486.65,162.05 487.05,163.13 487.45,164.08 487.85,164.9 488.25,165.54 488.65,165.8 489.05,165.67 489.45,165.27 489.85,164.87 490.25,164.47 490.65,164.06 491.05,163.6 491.45,163.11 491.85,162.59 492.25,162.07 492.65,161.66 493.05,161.38 493.45,161.23 493.85,161.11 494.25,160.98 494.65,160.86 495.05,160.55 495.45,160.03 495.85,159.31 496.25,158.94 496.65,159.09 497.05,159.75 497.45,160.55 497.85,161.31 498.25,161.85 498.65,162.18 499.05,162.34 499.45,162.49 499.85,162.64 500.25,162.94 500.65,163.75 501.05,165.09 501.45,166.81 501.85,168.63 502.25,170.55 502.65,172.55 503.05,174.17 503.45,175.37 503.85,176.16 504.25,176.77 504.65,176.89 505.05,176.5 505.45,175.75 505.85,175.09 506.25,174.57 506.65,174.18 507.05,173.85 507.45,173.52 507.85,173.12 508.25,172.36 508.65,171.25 509.05,169.85 509.45,168.45 509.85,167.01 510.25,165.5 510.65,163.93 511.05,162.33 511.45,160.74 511.85,159.28 512.25,157.96 512.65,156.76 513.05,155.56 513.45,154.52 513.85,153.77 514.25,153.3 514.65,152.97 515.05,152.64 515.45,152.31 515.85,152.04 516.25,151.83 516.65,151.68 517.05,151.52 517.45,151.37 517.85,151.24 518.25,151.26 518.65,151.43 519.05,151.71 519.45,152.4 519.85,153.5 520.25,155 520.65,156.51 521.05,158.06 521.45,159.64 521.85,161.24 522.25,162.84 522.65,164.31 523.05,165.61 523.45,166.76 523.85,167.88 524.25,168.9 524.65,169.55 525.05,169.82 525.45,169.82 525.85,169.82 526.25,170.13 526.65,170.87 527.05,172.03 527.45,173.31 527.85,174.6 528.25,175.92 528.65,177.29 529.05,178.69 529.45,180.09 529.85,181.41 530.25,182.59 530.65,183.64 531.05,184.64 531.45,184.64 531.85,183.64 532.25,181.64 532.65,178.44 533.05,173.77 533.45,167.93 533.85,162.35 534.25,157.64 534.65,154.36 535.05,152.29 535.45,151.82 535.85,152.09 536.25,153.09 536.65,153.99 537.05,154.63 537.45,155 537.85,155.2 538.25,155.4 538.65,155.86 539.05,156.63 539.45,157.71 539.85,158.7 540.25,159.44 540.65,159.93 541.05,160.33 541.45,160.75 541.85,161.42 542.25,162.34 542.65,163.48 543.05,164.58 543.45,165.63 543.85,166.61 544.25,167.41 544.65,167.88" fill="none" stroke="#0072BD" stroke-width="3.1" stroke-linejoin="miter" stroke-miterlimit="4" stroke-linecap="butt"/>
<polyline clip-path="url(#c2)" points="51.1,265.45 51.55,262.88 52.31,268.01 53.07,261.09 53.87,269.94 54.59,258.97 55.44,269.01 56.26,261.22 57.08,268.55 57.97,261.59 58.78,269.57 59.44,259.88 60.21,269.22 61.15,261.65 61.83,268.64 62.76,262.54 63.56,268.59 64.22,262.76 65.03,268.28 65.92,262.86 66.64,267.89 67.39,263.29 68.39,268.96 69.07,261.27 69.92,272.33 70.81,256.41 71.45,274.72 72.3,251.7 73.15,276.85 73.96,256.3 74.7,274.51 75.49,259.46 76.31,270.36 77.1,261.64 77.89,268.97 78.81,262.7 79.41,268.36 80.33,262.71 81.07,267.75 81.8,262.9 82.8,268.4 83.59,262.04 84.21,270.16 85.12,258.67 85.95,273.09 86.66,255.34 87.6,274.12 88.28,258.7 89.1,271.18 89.79,259.61 90.63,268.71 91.5,262 92.31,267.8 93.14,263.4 93.89,267.15 94.68,263.8 95.6,267.46 96.27,263.43 97.11,268.63 97.83,259.53 98.63,270.95 99.41,258.45 100.23,274.12 101.02,257.15 101.82,271.47 102.61,259.76 103.5,270.11 104.19,260.95 105.08,270.22 105.79,261.56 106.68,270.56 107.61,260.09 108.2,271.16 109.02,259.28 109.86,271.55 110.59,259.24 111.45,271.75 112.29,258.89 113.05,274.12 113.84,256.25 114.73,272.64 115.4,259.4 116.41,270.84 116.98,260.79 117.8,269.68 118.59,261.96 119.54,269.18 120.23,263 121.09,269.5 122,262.01 122.59,270.63 123.53,260.79 124.2,270.78 125.18,260.05 125.87,272.3 126.74,258.97 127.42,269.85 128.36,262.82 129.11,269.1 129.87,262.55 130.64,270.35 131.5,258.06 132.22,272.3 133.13,258.06 133.87,272.3 134.62,260.14 135.39,269.91 136.36,261.52 137,269.75 137.98,261.56 138.79,269.91 139.49,260.09 140.36,272.3 141.07,257.15 141.88,270.45 142.61,260.05 143.41,272.14 144.34,259.6 144.99,272.04 145.93,260.41 146.58,273.21 147.61,261.03 148.31,273.21 149.17,259.88 149.97,273.21 150.63,259.65 151.4,271.76 152.21,257.15 153.21,271.07 153.99,259.15 154.69,271.41 155.58,260.36 156.33,270.54 157.19,261.54 157.92,270.01 158.61,261.59 159.52,270.17 160.23,260.33 161.09,271.11 161.8,259.94 162.7,271.1 163.51,258.97 164.28,271.75 165.13,260.97 165.86,270.31 166.66,262.33 167.4,269.07 168.22,262.9 169.15,268.17 170.02,263.23 170.8,268.01 171.48,263.35 172.4,267.46 173.1,263.63 173.88,267.28 174.8,263.56 175.6,267.29 176.2,262.89 177.05,268.11 177.93,262.31 178.76,268.66 179.48,261.7 180.36,268.46 181.05,261.76 181.85,268.66 182.6,262.22 183.56,267.9 184.41,261.94 185.19,268.76 185.82,260.12 186.69,269.22 187.51,258.97 188.38,269.29 189.09,261.71 189.97,270.48 190.64,262.21 191.38,270.38 192.31,260.79 193.02,270.48 193.83,261.9 194.69,269.15 195.57,262.95 196.19,269.39 196.98,261.95 197.86,268.68 198.71,260.79 199.45,268.93 200.37,262.33 201.04,270.29 201.88,261.11 202.74,271.15 203.57,258.97 204.21,272.3 205.17,259.46 205.98,270.95 206.65,258.97 207.38,270.53 208.4,261.42 209.09,269.51 210,261.99 210.72,269.08 211.5,262.4 212.22,269.02 213.22,261.77 213.88,269.89 214.69,260.79 215.49,270.6 216.22,261.07 217.11,272.3 217.98,260.79 218.8,271.48 219.39,261.79 220.31,270.13 221.05,261.77 222,269.63 222.74,260.59 223.5,271.01 224.41,259.33 225.03,271.51 225.82,258.35 226.78,272.56 227.45,257.89 228.41,272.96 229.07,258.18 229.81,272.83 230.82,256.25 231.44,275.03 232.2,256.65 233.16,275.03 233.93,256.25 234.58,272.92 235.61,258.88 236.24,272.77 237.04,258.84 237.79,274.83 238.81,256.27 239.6,277.09 240.42,252.88 241.14,277.78 241.79,250.5 242.62,281.39 243.58,246.25 244.19,278.51 245.11,256.25 245.81,275.06 246.82,257.83 247.41,274.05 248.21,257.95 249.2,272.95 249.83,259.38 250.82,270.96 251.44,261.57 252.41,268.93 253.15,262.36 253.79,268.67 254.76,262.41 255.52,268.5 256.31,262.78 257.11,268.37 257.83,262.81 258.8,268.79 259.42,261.4 260.38,270.48 261.04,258.97 261.79,269.52 262.68,261.21 263.41,270.48 264.39,261.41 265.22,269.53 265.91,261.88 266.6,269.26 267.49,262.19 268.32,268.75 269.1,262.8 269.86,268.19 270.72,262.9 271.6,268.01 272.38,263.04 273.21,267.59 273.81,262.06 274.76,267.52 275.53,262.3 276.41,268.34 277.09,262.19 277.99,268.59 278.71,261.95 279.53,268.76 280.28,261.75 281.17,268.58 281.99,261.88 282.82,269.57 283.43,260.79 284.39,269.15 285.19,261.97 285.87,269.03 286.7,261.25 287.47,270.48 288.39,259.88 289.02,269.4 289.87,261.64 290.61,270.48 291.46,261.93 292.19,269.04 293.2,261.25 293.96,270.65 294.78,259.02 295.49,274.31 296.21,256.89 297.07,276.85 297.99,254.43 298.63,273.18 299.52,259.31 300.19,270.79 300.98,260.63 301.82,269.07 302.67,260.66 303.48,269.57 304.34,258.97 305,268.86 305.95,261.44 306.69,268.39 307.62,262.5 308.18,267.87 309.08,263.74 309.98,267.18 310.68,263.73 311.59,266.93 312.27,263.4 313.13,267.3 314,263.14 314.72,268.21 315.44,262.72 316.39,269.06 317.05,261.08 317.94,269.69 318.63,259.33 319.6,272.3 320.31,257.15 321.07,270.79 322,261.59 322.76,272.09 323.39,256.25 324.25,274.12 325.19,258.87 325.98,270.99 326.61,260.69 327.48,268.57 328.22,262.66 329.1,268.75 329.98,261.38 330.59,273.42 331.47,255.68 332.24,276.99 333.15,250.36 333.81,279.4 334.69,249.57 335.44,281.11 336.23,249.28 337.13,281.1 337.96,248.29 338.71,284.12 339.53,245.34 340.19,284.12 341.19,253.82 341.92,276.55 342.8,259.12 343.43,273.71 344.42,262.63 345.22,269.17 345.82,263.72 346.66,268.42 347.52,263.06 348.31,267.38 349.09,262.4 349.99,268.66 350.7,260.79 351.58,267.69 352.2,262.93 353.11,267.52 353.99,262.66 354.71,269.23 355.58,260.73 356.25,272.3 357.14,257.15 357.86,271.83 358.72,259.04 359.55,272.3 360.27,258.06 361.11,272.3 361.95,258.8 362.67,270.71 363.48,260.78 364.21,269.86 365.1,262.39 365.9,269.66 366.6,261.36 367.6,271.14 368.3,259.39 369,272.3 369.86,258.06 370.61,271.85 371.49,259.35 372.24,272.3 373.02,260.61 373.9,270.34 374.63,261.92 375.57,270.16 376.4,259.91 377.15,272.05 377.83,254.43 378.81,275.03 379.56,257.56 380.34,272.87 381.1,258.73 381.99,270.87 382.7,260.34 383.48,268.84 384.24,262.14 385.12,268.1 385.79,262.47 386.73,267.84 387.56,262.67 388.41,267.81 389.15,261.73 389.79,268.66 390.76,260.92 391.43,268.66 392.42,259.88 393.1,267.5 393.82,263.31 394.74,267.44 395.42,263.62 396.33,267.01 397.01,263.55 397.8,266.62 398.67,263.68 399.62,266.94 400.24,263.35 400.98,268.82 401.95,261.08 402.59,271.11 403.46,257.15 404.2,274.12 405.07,259.81 405.89,271.22 406.66,259.83 407.49,270.48 408.26,259.15 409.08,272.1 409.86,258.05 410.71,273.91 411.45,256.6 412.19,273.93 413.03,257.45 413.84,273.32 414.72,257.09 415.56,275.3 416.28,250.94 417,279.84 417.9,244.69 418.8,284.27 419.53,240.6 420.21,284.33 421.02,239.67 422.02,296.85 422.7,236.25 423.44,293.7 424.28,236.25 425.09,289.4 425.95,248.2 426.8,284.11 427.54,252.25 428.29,278.86 429.05,255.97 429.93,275.45 430.81,260.07 431.61,272.35 432.2,261.23 433.11,270.91 433.9,261.81 434.6,271.36 435.5,259.11 436.18,272.17 437.14,257.24 437.88,275.94 438.71,256.25 439.49,272.7 440.19,259.12 441.16,272.98 441.89,259.24 442.67,271.48 443.56,260.86 444.29,271.22 445.06,259.89 445.84,271.23 446.73,258.97 447.42,271.48 448.22,259.95 449.04,272.3 449.92,261.65 450.68,269.24 451.56,259.85 452.27,271.04 453.05,256.81 453.83,271.72 454.73,255.34 455.55,280.48 456.36,255.82 457.07,280.48 457.88,252.61 458.67,271.23 459.55,260.08 460.23,269.82 461.17,261.77 462.02,270.37 462.77,261.94 463.41,271.39 464.41,261.38 465.19,269.93 465.88,260.47 466.63,271.39 467.48,258.97 468.29,270.55 469.04,261.74 470.01,268.93 470.67,263.01 471.45,268.05 472.39,263.53 473.03,267.35 473.84,263.73 474.66,267.18 475.43,263.5 476.31,266.78 477.1,263.19 477.98,266.65 478.76,263.03 479.4,266.8 480.23,262.45 481.21,269.22 482,261.46 482.61,271.16 483.39,260.41 484.24,272.43 485.21,256.25 486,273.49 486.74,256.8 487.6,275.03 488.26,256.25 489.12,272.5 489.81,258.97 490.59,272.77 491.46,261.55 492.26,270.4 493.06,262.23 493.88,270.78 494.65,259.5 495.57,271.16 496.36,258.8 497.01,272.3 497.98,258.48 498.67,270.94 499.58,257.2 500.27,274.09 500.98,254.43 501.89,276.85 502.69,256.53 503.55,274.35 504.42,260.74 505.19,269.11 505.97,264.64 506.6,268.28 507.58,262.71 508.39,269.4 508.99,255.34 509.81,272.7 510.69,256.71 511.57,275.03 512.34,257.56 513.11,273.53 513.99,260.2 514.6,271.41 515.45,261.13 516.19,271.19 517.15,261.41 517.9,269.49 518.63,261.32 519.56,271.39 520.36,258.97 520.98,270.9 521.91,261.33 522.63,271.39 523.41,258.97 524.29,271.39 525.14,260.97 525.95,269.55 526.79,260.53 527.44,271.12 528.4,258.17 529.07,273.94 529.95,253.34 530.66,278.19 531.57,251.25 532.2,283.21 533.16,250.68 533.88,283.21 534.68,243.52 535.4,279.32 536.32,249.94 537.21,279.89 537.89,254.8 538.72,276.42 539.5,257.34 540.3,276.39 541.03,253.16 541.85,277.02 542.6,253.91 543.49,281.39 544.23,250.79" fill="none" stroke="#0072BD" stroke-width="3.0" stroke-linejoin="miter" stroke-miterlimit="4" stroke-linecap="butt"/>
<polyline clip-path="url(#c3)" points="51.1,375.45 51.48,373.94 52.06,377.25 52.63,373.36 53.46,378.35 54.07,372.51 54.7,378.92 55.29,372.77 55.93,380.48 56.53,370.79 57.23,378.44 57.85,372.97 58.49,378.52 59.16,372.82 59.82,378.24 60.56,372.5 61.17,378.15 61.79,372.06 62.57,378.14 63.08,372.54 63.7,378.3 64.39,372.7 65.11,379.16 65.64,371.31 66.31,380.94 66.93,371.01 67.61,380.65 68.23,370.26 68.94,383.21 69.65,368.06 70.37,381.84 70.87,369.22 71.66,381.42 72.32,368.06 72.95,380 73.56,370.98 74.1,380.14 74.75,371.03 75.48,382.22 76.1,368.48 76.84,384.12 77.33,367.15 78.02,383.35 78.74,368.49 79.4,382.17 80,369.61 80.76,381.5 81.3,370.18 81.92,381.09 82.56,371.61 83.32,379.69 83.92,370.98 84.54,380.29 85.2,370.15 85.85,383.18 86.5,367.12 87.1,384.44 87.88,364.43 88.46,385.94 89.09,365.87 89.85,385.94 90.52,366.99 91.01,383.53 91.74,368.76 92.42,382.12 93.01,369.66 93.6,381.56 94.26,370.05 94.96,380.36 95.65,370.56 96.24,380.46 96.93,368.97 97.66,382.3 98.19,370.78 98.88,380.96 99.6,368.97 100.17,380.94 100.9,371.79 101.57,378.96 102.17,372.27 102.69,378.51 103.5,372.83 104.16,379.36 104.75,371.88 105.33,379.38 106.02,372.34 106.62,378.7 107.28,372.78 108.06,378.2 108.58,372.59 109.18,379.42 109.99,370.75 110.49,381.27 111.14,369.25 111.96,382.31 112.59,369.05 113.24,383.21 113.91,368.06 114.57,381.24 115.03,370.11 115.78,380.91 116.35,369.24 117.11,381.76 117.73,369.69 118.41,381.39 119.01,371.17 119.6,379.44 120.29,371.87 120.93,379.08 121.55,372.37 122.19,379.22 122.86,372.21 123.58,378.79 124.19,372.7 124.93,378.7 125.53,371.87 126.2,380.12 126.82,370.72 127.48,381.04 128.14,369.9 128.86,381.45 129.47,369.67 130.07,382.01 130.69,369.01 131.34,380.29 131.97,371 132.63,383.21 133.36,368.06 134.05,380.71 134.59,369.07 135.21,383.21 136.02,368.96 136.48,382.76 137.13,368.73 137.89,381.5 138.48,369.93 139.15,381.56 139.81,369.1 140.43,384.12 141.18,366.25 141.69,383.98 142.52,367.29 143.12,383.39 143.82,367.99 144.35,383.55 144.93,367.99 145.73,384.31 146.32,368.65 146.96,384.39 147.6,367.95 148.25,384.46 148.83,366.25 149.5,385.94 150.27,369.74 150.95,381.71 151.56,369.48 152.15,381.78 152.75,369.25 153.55,384.71 154.19,365.34 154.76,385.94 155.5,368.24 156.1,381.87 156.68,369.57 157.28,381.16 158.05,370.05 158.62,380.62 159.32,370.59 159.95,380.31 160.61,372.26 161.2,378.7 161.83,372.36 162.63,380.48 163.27,372.41 163.81,380.33 164.48,370.96 165.19,380.17 165.92,370.79 166.53,379.84 167.21,372.08 167.75,379.22 168.47,372.17 169.15,379.26 169.76,370.79 170.4,381.03 171.05,371.21 171.58,380 172.4,371.45 172.89,379.87 173.68,370.79 174.34,379.44 174.94,371.77 175.49,379.8 176.21,371.19 176.9,381.39 177.58,370.79 178.2,380.63 178.73,371.46 179.53,379.01 180.03,372.8 180.75,378.95 181.44,372.98 182.16,380.25 182.75,371.52 183.33,380.61 184.1,371.24 184.72,380.35 185.3,371.19 185.93,380.66 186.6,371.95 187.34,379.53 188,370.25 188.62,381.39 189.26,371.92 189.94,380.8 190.45,370.74 191.11,380.89 191.9,370.96 192.54,380.62 193.14,371.14 193.8,380.06 194.33,371.65 195.09,379.28 195.68,371.93 196.44,379.44 197.08,373.2 197.77,377.83 198.3,373.41 199,377.57 199.56,373.44 200.28,377.97 200.89,371.51 201.57,379.68 202.23,371 202.94,379.86 203.46,370.81 204.19,380.89 204.91,369.95 205.46,381.2 206.06,369.95 206.85,381.46 207.47,369.67 208.17,381.75 208.66,370.18 209.34,379.5 209.97,371.35 210.67,379.72 211.25,368.97 211.95,379.78 212.69,369.39 213.24,381.1 213.96,369.76 214.63,381.24 215.18,369.87 215.91,381.2 216.6,370.05 217.18,381.38 217.92,369.83 218.45,381.22 219.14,370.03 219.71,380.01 220.36,370.94 221.01,380.35 221.75,370.76 222.31,382.3 223.06,368.97 223.63,381.79 224.36,369.39 225.01,381.84 225.7,369.74 226.34,381.14 226.92,370.52 227.63,380.79 228.15,370.09 228.92,379.36 229.5,371.9 230.15,379.06 230.8,372.13 231.47,378.72 232.18,371.08 232.86,380.26 233.4,371.1 234,379.96 234.66,371.37 235.38,379.97 235.94,370.97 236.74,380.77 237.36,370.42 238.02,380.24 238.53,370.5 239.27,380.97 240.01,369.47 240.5,382.21 241.28,366.65 241.89,385.31 242.59,365.79 243.2,386.85 243.87,364.79 244.56,385.94 245.03,366.18 245.73,384.33 246.34,367.59 247.06,383.22 247.65,368.61 248.3,382.11 248.98,369.56 249.6,382.3 250.38,368.97 250.96,379.93 251.56,371.82 252.28,379.15 252.9,371.82 253.6,379.67 254.23,372.06 254.95,379.45 255.49,372.2 256.21,379.44 256.8,372.02 257.53,379.67 258.09,372.05 258.75,379.39 259.4,371.68 260.1,379.12 260.82,371.94 261.36,379.58 262.05,371.26 262.69,380.07 263.4,371.15 264.03,381.41 264.7,369.24 265.36,382.41 265.85,368.06 266.51,383.21 267.25,369.81 267.86,381.08 268.61,371.25 269.18,379.39 269.76,372 270.45,379.05 271.14,372.19 271.77,379.56 272.45,371.66 273,379.42 273.71,371.63 274.3,379.45 274.99,370.79 275.74,379.57 276.34,371.19 276.92,379.79 277.61,370.99 278.2,380.32 278.86,370.93 279.52,380.32 280.16,370.81 280.95,378.66 281.61,372.3 282.24,378.9 282.83,371.98 283.46,380.79 284.17,369.94 284.71,381.57 285.47,369.26 286,382.53 286.65,367.7 287.29,383.21 288.1,370.72 288.71,380.04 289.35,371.26 289.91,381.46 290.63,370.13 291.29,381.1 291.96,370.77 292.48,380.59 293.26,371.21 293.94,380.86 294.57,370.83 295.09,380.62 295.91,370.62 296.53,380.78 297.11,370.34 297.79,381.39 298.42,369.52 299.08,379.61 299.74,371.88 300.33,379.08 301,372.47 301.63,380.05 302.27,370.7 302.95,380.45 303.67,368.97 304.22,381.03 304.91,370.5 305.5,379.76 306.26,371.58 306.79,378.74 307.46,372.67 308.12,378.32 308.84,373.14 309.53,377.84 310.08,373.59 310.73,377.71 311.48,373.98 312.14,377.23 312.82,373.54 313.35,377.98 313.98,373.17 314.65,378.17 315.24,372.23 316,380.05 316.62,370.41 317.24,381.33 317.87,369.53 318.57,380.1 319.17,368.97 319.86,380.24 320.52,371.07 321.12,380.22 321.73,371.02 322.5,382.37 323.13,369.13 323.75,382.36 324.4,368.91 325.12,382.5 325.78,369.07 326.47,383 327.01,368.24 327.61,384.03 328.38,367.25 329.03,385.33 329.72,367.07 330.22,385.98 330.94,366.78 331.63,387.1 332.29,360.73 332.85,393.8 333.59,353.17 334.1,397.63 334.77,338.06 335.45,414.12 336.07,341.83 336.69,408.01 337.47,350.53 338.09,399.23 338.63,355.77 339.4,391 340.12,364.84 340.76,383.9 341.36,369.29 341.96,380.82 342.61,371.89 343.34,378.51 343.98,372.28 344.63,378.13 345.29,371.91 345.84,378.59 346.55,370.48 347.15,379.97 347.77,369.88 348.39,379.01 349.19,371.89 349.73,379.07 350.45,372.03 351.01,379.34 351.63,371.33 352.3,382.09 352.94,368.54 353.62,383.34 354.25,367.32 354.95,383.85 355.66,365.34 356.27,382.04 356.94,368.81 357.52,385.94 358.32,365.34 358.9,381.31 359.43,367.94 360.23,382.4 360.85,369.55 361.41,381.22 362.04,371.04 362.72,379.36 363.44,372.49 364.01,378.05 364.77,373.23 365.37,378.17 366.08,372.94 366.68,378.33 367.25,372.23 368.01,378.79 368.66,371.93 369.25,380.17 369.97,369.88 370.53,381.03 371.2,370.3 371.97,380.94 372.49,370.02 373.25,379.25 373.81,371.87 374.52,379.02 375.19,371.85 375.81,379.17 376.43,370.12 377.16,381.39 377.8,369.52 378.37,380.99 379,370.37 379.71,380.74 380.36,371.62 380.96,379.36 381.72,371.98 382.25,379.16 383,371.86 383.62,380.83 384.21,370.25 384.82,381.03 385.59,370.73 386.18,380.49 386.92,370.98 387.55,380.06 388.05,372.69 388.7,378.35 389.38,372.67 390.1,378.63 390.72,372.55 391.47,379.84 392.11,371.61 392.58,379.37 393.29,372.42 393.9,378.57 394.69,372.89 395.23,378.85 395.84,371.66 396.59,380.36 397.24,369.52 397.91,381.33 398.47,370.2 399.21,381.23 399.79,370.6 400.45,382.3 401.21,371.79 401.77,379.61 402.42,369.88 402.98,379.54 403.73,370.76 404.34,380.05 405.08,371.09 405.73,380.38 406.35,370.65 407.02,380.84 407.6,369.96 408.35,380.95 408.98,369.81 409.56,380.97 410.31,369.06 410.9,380.29 411.49,369.83 412.23,380.65 412.88,369.12 413.46,381.64 414.18,365.59 414.78,384.54 415.49,365.33 416.02,385.13 416.72,364.19 417.28,386.85 417.98,362.16 418.58,388.19 419.33,360.01 419.91,391.44 420.7,356.04 421.27,394.06 422,353.52 422.57,396.85 423.17,357.15 423.85,391.46 424.52,363.06 425.25,387.6 425.8,358.97 426.56,385.34 427.06,362.5 427.74,386.07 428.51,364.64 429.04,385.15 429.64,366.15 430.39,384.08 431.07,367.65 431.69,383.61 432.26,366.76 432.93,385.03 433.7,365.34 434.35,382.16 434.99,368.98 435.63,382.03 436.26,368.73 436.84,385.03 437.53,367.02 438.26,384.23 438.92,367.23 439.53,383.74 440.14,368.05 440.69,382.79 441.46,368.76 442,382.5 442.68,368.1 443.32,383.16 444.02,367.15 444.6,384.12 445.35,369.69 445.91,381.07 446.63,369.97 447.37,382.44 447.86,368.5 448.53,382.76 449.28,367.97 449.8,384.12 450.53,367.15 451.17,381.1 451.82,370.08 452.56,384.12 453.14,367.15 453.78,381.5 454.46,370.59 455.16,380.02 455.77,370.74 456.46,381.07 457.1,370.02 457.7,381.77 458.24,369.33 458.95,382.35 459.71,368.06 460.29,383.21 460.93,371.37 461.67,379.76 462.21,371.45 462.79,379.7 463.46,369.84 464.11,381.78 464.92,370.04 465.57,382.3 466.1,369.83 466.71,382.12 467.48,369.64 468.02,381.87 468.64,368.97 469.38,382.33 469.95,369.35 470.62,383.21 471.39,369.22 472.02,381.83 472.7,369.64 473.24,383.21 473.99,368.06 474.59,381.77 475.16,368.72 475.83,382.17 476.59,369.75 477.13,380.66 477.91,371.92 478.49,378.62 479.18,372.07 479.72,380.01 480.37,368.06 481.05,381.5 481.69,368.8 482.44,382.24 483,368.06 483.6,383.21 484.3,370.49 485.05,380.54 485.61,370.74 486.33,380.36 486.96,369.02 487.48,382.58 488.14,368.31 488.82,384.12 489.57,367.15 490.22,382.36 490.76,369.23 491.49,381.73 492.1,369.92 492.69,380.39 493.35,372.49 494.08,380.72 494.68,369.57 495.4,384.5 496.09,366.38 496.69,385.63 497.26,364.43 497.92,386.85 498.62,367.66 499.34,382.75 499.88,368.49 500.6,381.87 501.17,367.23 501.89,383.14 502.53,368.28 503.16,382.26 503.9,368.69 504.45,381.99 505.17,367.15 505.71,383.21 506.41,369.99 507.07,380.14 507.79,370.22 508.31,381.52 508.99,365.34 509.69,380.95 510.41,369.83 510.93,381.26 511.64,369.61 512.32,385.03 512.88,369.97 513.61,384.14 514.29,367.56 514.88,384.72 515.56,367.08 516.2,385.07 516.82,366.52 517.39,382.34 518.22,368.72 518.87,382.78 519.45,363.52 520.07,386.85 520.71,364.91 521.4,384.96 522,364.78 522.61,386.85 523.42,363.52 524,379.99 524.63,372.12 525.32,379.03 525.89,369.45 526.52,383.31 527.22,367.44 527.9,385.25 528.58,365.57 529.08,386.55 529.73,364.27 530.56,386.57 531.09,364.02 531.71,387.42 532.48,361 533.03,388.95 533.82,358.06 534.37,391.39 534.96,363.23 535.72,387.53 536.29,362.97 536.91,391.39 537.69,360.14 538.28,389.21 538.98,358.97 539.5,386.81 540.25,363.78 540.79,384.91 541.56,365.32 542.09,384.37 542.77,367.22 543.49,383.89 544.12,367.15 544.78,384.12" fill="none" stroke="#0072BD" stroke-width="3.0" stroke-linejoin="miter" stroke-miterlimit="4" stroke-linecap="butt"/>
<polyline clip-path="url(#c4)" points="51.1,485.65 51.45,482.99 51.89,487.88 52.44,481.98 53.06,489.24 53.53,480.9 54.2,489.92 54.66,480.34 55.14,489.65 55.82,478.97 56.25,491.39 56.96,480.81 57.4,489.71 57.9,481.34 58.52,489.89 59,480.64 59.55,490.23 60.1,479.97 60.71,492.3 61.2,478.97 61.9,490.24 62.38,481.59 62.93,489.24 63.44,482.57 64.03,488.78 64.59,481.99 65.08,489.88 65.68,480.91 66.24,491.39 66.8,479.88 67.39,490.14 67.87,481.31 68.38,490.09 68.94,481.2 69.57,490.09 70.04,480.79 70.56,492 71.11,478.88 71.74,493.21 72.2,478.25 72.75,493.1 73.34,477.79 73.86,492.99 74.44,477.62 75.03,493.08 75.6,477.53 76.14,495.03 76.73,476.25 77.3,492.85 77.81,478.59 78.38,492.22 78.81,481.08 79.37,489.73 80,481.81 80.45,488.69 81.08,482.57 81.55,488.29 82.15,481.62 82.8,489.26 83.23,481.74 83.8,489.13 84.29,481.14 84.98,490.63 85.41,479.26 85.97,492.2 86.57,477.47 87.17,494.22 87.64,475.34 88.22,495.94 88.77,476.46 89.4,492.94 89.95,478.08 90.36,495.94 90.96,475.34 91.6,493.93 92.09,477.54 92.69,495.94 93.13,475.34 93.68,494 94.25,477.99 94.78,493.26 95.33,478.52 95.98,493 96.49,477.83 96.97,493.5 97.57,477.44 98.07,494.12 98.71,477.15 99.18,491.89 99.75,479.13 100.38,490.42 100.92,480.44 101.34,490.04 101.99,480.75 102.51,489.98 103,480.89 103.61,490.01 104.21,480.4 104.8,490.17 105.34,481.17 105.85,490.02 106.42,481.12 106.94,490.02 107.48,481.28 107.96,489.93 108.55,481.42 109.17,488.78 109.64,482.3 110.19,488.84 110.7,481.99 111.35,489.1 111.94,481.62 112.48,489.33 112.99,480.2 113.53,490.54 114.03,479.88 114.63,491.03 115.09,480.02 115.67,490.83 116.34,480.16 116.84,490.91 117.31,481.47 117.93,489.55 118.45,479.88 118.98,489.65 119.54,481.5 120.19,491.04 120.7,480.31 121.18,491.03 121.79,480.33 122.39,491.24 122.86,479.7 123.43,491.48 123.94,479.57 124.54,491.53 125.02,478.77 125.56,493.62 126.19,476.88 126.67,495.68 127.3,475.51 127.86,497.75 128.37,473.52 129,493.98 129.53,478.95 130.1,493.11 130.61,480.06 131.12,491.39 131.62,479.93 132.16,491.1 132.79,480.01 133.37,490.53 133.93,480.29 134.46,490.07 135.05,479.82 135.6,491.46 136.01,478.3 136.58,492.86 137.17,477.27 137.77,493.3 138.26,477.53 138.8,492.9 139.39,477.23 139.96,491.8 140.55,478.75 140.95,492.32 141.61,475.34 142.06,495.94 142.65,479.19 143.29,491.68 143.74,477.19 144.36,493.34 144.89,476.55 145.4,491.25 145.98,479.27 146.51,491.3 147.1,475.34 147.59,495.03 148.17,479.58 148.73,495.03 149.35,476.95 149.8,493.51 150.29,478.07 150.9,493.26 151.43,478.41 152.01,492.53 152.5,478.96 153.2,492.29 153.67,478.69 154.19,492.46 154.81,478.06 155.25,493.21 155.92,479.21 156.44,491.43 157,479.72 157.45,491.84 158.12,480.34 158.69,490.53 159.24,480.91 159.81,490.01 160.34,481.09 160.87,490.51 161.45,480.9 161.88,492.09 162.44,478.06 162.99,494.12 163.51,479.29 164.12,492.31 164.66,479.8 165.29,491.3 165.7,480.33 166.4,490.76 166.81,480.57 167.49,490.26 167.9,480.99 168.51,490.06 169.12,481.27 169.67,489.91 170.18,482.37 170.76,488.88 171.21,482.23 171.8,488.61 172.37,480.79 173,488.35 173.49,481.67 174.03,489 174.51,481.98 175.16,488.89 175.72,482.19 176.23,488.85 176.82,481.83 177.33,489.19 177.86,481.94 178.35,488.86 178.97,482.3 179.6,488.96 180.08,481.77 180.7,489.32 181.26,481.29 181.67,489.47 182.21,481.14 182.86,489.05 183.36,481.8 183.89,489.27 184.53,481.51 185,491.03 185.59,479.88 186.12,490.66 186.61,480.34 187.17,490.59 187.74,480.66 188.37,491.03 188.84,481.16 189.45,490.28 190,481.69 190.49,489.43 191.06,481.9 191.57,489.48 192.1,481.99 192.74,489.32 193.2,482.18 193.82,489.72 194.3,481.28 194.86,489.98 195.49,480.8 195.98,490.15 196.51,480.26 197.16,490.59 197.6,480.23 198.25,490.56 198.81,479.88 199.35,491.03 199.81,481.44 200.39,489.64 200.89,481.77 201.53,489.4 202.07,481.44 202.58,490.23 203.25,479.61 203.66,492.3 204.21,478.97 204.85,491.59 205.32,479.96 205.92,490.62 206.47,480.77 207.09,490.61 207.54,480.7 208.13,490.46 208.68,480.8 209.21,490.4 209.83,481.55 210.26,489.7 210.85,481.75 211.39,489.46 212,481.88 212.46,489.19 213.05,481.13 213.65,489.51 214.19,481.25 214.8,489.63 215.3,481.07 215.79,490.16 216.35,480.62 216.85,490.5 217.46,480.56 217.95,490.34 218.52,480.83 219.17,490.63 219.68,480.45 220.21,490.79 220.7,480.53 221.29,492.61 221.88,478.84 222.5,494.12 222.91,478.06 223.46,492.96 224.01,479.46 224.63,491.75 225.14,480.15 225.8,491.25 226.23,479.81 226.89,491.88 227.4,481.46 227.9,489.81 228.48,481.35 228.95,489.77 229.57,481.37 230.19,489.94 230.68,479.04 231.27,492.73 231.77,478.52 232.34,493.59 232.83,477.15 233.46,495.03 234.06,479.45 234.47,492.14 235.07,479.66 235.68,491.47 236.21,480.06 236.74,492.23 237.25,479.19 237.86,491.79 238.42,479.69 238.94,491.55 239.47,479.76 240.09,492.07 240.55,479.02 241.06,492.88 241.66,478.35 242.16,493.17 242.82,477.99 243.24,494.12 243.84,477.15 244.45,490.52 245.03,481.07 245.5,490.55 246.08,481.15 246.64,494.12 247.12,479.42 247.64,492.28 248.32,479.68 248.75,492.59 249.37,479.21 249.88,491.8 250.53,478.97 251.08,491.32 251.56,481.92 252.08,489.44 252.59,482.46 253.24,489.25 253.78,482.19 254.29,489.45 254.85,480.66 255.47,491.17 256.01,480.13 256.49,491.34 257.02,479.71 257.54,490.28 258.11,480.77 258.71,490.63 259.27,480.45 259.75,490.85 260.42,478.06 260.98,493.21 261.51,479.5 262.04,491.48 262.64,480.45 263.08,490.88 263.65,480.67 264.2,490.76 264.73,480.5 265.31,490.99 265.91,480.56 266.37,491.39 267.04,480.76 267.48,490.73 268.07,480.82 268.55,490.44 269.22,481 269.78,489.11 270.32,482.2 270.89,489.09 271.36,482.18 271.95,489.02 272.51,482.2 272.97,490.26 273.53,481.1 274.17,491.03 274.68,480.25 275.2,490.39 275.79,480.9 276.27,490.44 276.79,481.77 277.41,489.36 277.89,482.02 278.6,489.27 279.05,481.96 279.56,489.56 280.09,480.69 280.74,490.51 281.27,480.69 281.82,490.63 282.39,480.46 282.87,490.92 283.47,480.44 283.98,491.02 284.63,480.12 285.13,491.75 285.7,479.52 286.16,491.31 286.76,480.04 287.38,490.91 287.84,481.25 288.36,490.15 288.91,481.01 289.59,490.39 290,480.84 290.62,490.48 291.12,479.83 291.72,491.51 292.3,479.83 292.79,491.56 293.34,479.85 293.89,491.84 294.45,479.44 294.96,490.36 295.53,480.67 296.12,492.85 296.73,478.06 297.26,489.97 297.84,481.09 298.28,491.77 298.84,479.61 299.43,491.89 299.98,479.12 300.54,492.26 301.1,480.13 301.61,490.96 302.11,479.45 302.79,491.36 303.25,476.25 303.84,494.12 304.37,480.3 304.85,492.64 305.52,480.23 305.95,492.07 306.6,479.89 307.15,490.96 307.67,478.97 308.2,492.3 308.78,481.14 309.38,489.7 309.93,481.93 310.42,489.68 311,481.85 311.59,489.06 312.12,482.66 312.7,487.89 313.23,483.28 313.66,488.32 314.31,482.44 314.79,489.25 315.36,481.86 315.91,489.86 316.49,480.18 317.04,491.47 317.54,479.4 318.18,491.81 318.63,479.32 319.24,492.08 319.84,479.11 320.29,492.78 320.89,477.53 321.5,494.55 321.97,476.54 322.53,495.15 323.03,476.4 323.67,495.84 324.17,473.52 324.66,497.75 325.35,477.64 325.78,494.1 326.31,478.42 326.96,493.15 327.53,479.3 327.98,492.99 328.54,478.03 329.07,494.25 329.67,477.74 330.19,495.38 330.83,476.65 331.36,496.61 331.88,475.67 332.44,497.81 332.9,474.71 333.52,499.57 334.01,473.52 334.6,497.22 335.17,476.05 335.77,495.37 336.25,476.81 336.79,492.06 337.43,479.74 337.89,491.88 338.39,479.42 338.98,492.38 339.54,476.39 340.08,494.72 340.69,476.28 341.26,495.41 341.84,478.97 342.34,492.89 342.91,478.84 343.49,493.63 344.01,478.32 344.47,494.24 345.08,473.52 345.66,499.57 346.17,475.29 346.78,496.27 347.28,476.8 347.85,494.98 348.34,477.43 348.94,493.68 349.41,478.28 350.03,492.68 350.51,478.66 351.05,493.09 351.64,477.65 352.19,494.12 352.76,478.98 353.26,492.3 353.91,478.69 354.35,492.2 354.94,476.25 355.52,493.69 356.07,477.08 356.57,495.03 357.21,476.25 357.73,492.99 358.35,478.86 358.75,492.13 359.4,479.44 359.96,491.54 360.49,480.16 361.05,490.67 361.61,480.93 362.16,490.2 362.69,481.37 363.15,489.7 363.73,481.75 364.33,489.25 364.92,482.94 365.5,488.66 365.99,482.44 366.5,489.08 367.15,479.88 367.67,491.39 368.18,480.47 368.78,490.81 369.27,480.38 369.86,490.58 370.42,479.88 370.85,489.84 371.54,481.49 372.07,489.77 372.62,481.58 373.15,491.03 373.74,481.71 374.3,490.54 374.77,480.86 375.34,490.46 375.95,480.87 376.42,490.47 376.92,481.03 377.49,490.39 378.13,480.79 378.65,490.48 379.24,482.32 379.7,488.94 380.25,482.37 380.76,488.82 381.34,481.26 382,490.88 382.43,480.25 383.05,492.3 383.51,479.52 384.09,491.37 384.72,480.58 385.21,490.26 385.78,481.74 386.29,489.62 386.8,481.18 387.41,490.09 387.94,480.72 388.56,490.14 389.13,478.98 389.59,491.48 390.24,478.83 390.67,491.93 391.28,477.92 391.76,494.12 392.38,477.15 392.89,492.17 393.47,479.57 394.07,491.38 394.56,480.04 395.08,491.25 395.7,479.32 396.25,491.67 396.78,478.06 397.27,492.3 397.81,480.74 398.34,490.14 398.95,481.04 399.49,492.3 400.03,481.44 400.62,491.67 401.11,479.97 401.74,491.15 402.31,480.25 402.89,490.57 403.4,480.31 403.91,490.88 404.49,480.06 404.98,491.39 405.58,481.07 406.12,489.84 406.74,480.93 407.27,489.85 407.85,480.89 408.32,489.93 408.84,480.52 409.4,491.75 410.03,478.59 410.56,492.2 411.04,478.32 411.69,492.38 412.1,477.73 412.7,492.95 413.23,477.19 413.8,493.86 414.36,476.49 414.94,494.37 415.55,478.36 416.09,492.85 416.52,478.06 417.17,498.66 417.67,472.61 418.21,493.85 418.73,477.95 419.25,495.95 419.95,475.95 420.41,495.7 421.02,475.42 421.47,495.55 422.15,473.03 422.62,500.34 423.2,467.27 423.69,507.44 424.29,462.83 424.82,510.85 425.37,460.53 425.91,524.48 426.55,454.43 427.04,507.39 427.61,461.48 428.11,502.76 428.6,470.48 429.2,499.95 429.7,471.64 430.35,494.18 430.86,477.09 431.49,493.53 431.93,477.85 432.47,493.72 433.1,477.84 433.69,497.3 434.21,473.99 434.78,496.92 435.29,473.52 435.8,495.78 436.35,475.92 436.95,495.21 437.49,475.75 437.99,495.85 438.51,476.16 439.14,493.04 439.69,478.77 440.31,491.94 440.76,478.97 441.3,492.28 441.89,474.43 442.5,494.32 443.02,475.87 443.54,494.87 444.01,476.12 444.66,495.94 445.11,476.7 445.77,494.68 446.26,476.38 446.87,494.25 447.4,475.34 447.89,492.05 448.49,479.07 449.04,492.43 449.53,478.95 450.11,495.94 450.64,478.9 451.23,492.6 451.84,476.67 452.32,494.73 452.9,476.25 453.39,494.62 453.96,476.81 454.47,494.49 455.11,478.1 455.62,495.03 456.15,478.16 456.77,492.51 457.26,478.93 457.75,492.36 458.43,477.15 458.87,491.44 459.48,480.01 460,492.27 460.6,479.24 461.1,492.37 461.61,478.86 462.15,492.52 462.72,479.89 463.4,493.21 463.92,478.06 464.38,490.96 465.05,480.38 465.59,490.23 466.1,478.06 466.66,491.55 467.19,478.99 467.74,491.33 468.29,479.62 468.78,491.15 469.3,480.09 469.9,490.93 470.47,481.44 471.03,489.39 471.54,482.16 472.13,489.04 472.69,481.89 473.24,489.14 473.71,481.43 474.39,489.69 474.79,480.25 475.44,489.55 476.01,481.28 476.46,489.39 477.11,481.84 477.59,489.66 478.25,481.74 478.68,489.71 479.35,480.82 479.77,491.13 480.36,479.33 480.96,495.33 481.49,475.89 481.98,496.36 482.56,474.62 483.07,497.07 483.64,473.15 484.16,497.33 484.85,472.27 485.38,494.54 485.91,469.88 486.41,499.57 486.93,475.44 487.47,494.56 488.08,477.18 488.58,495.71 489.11,476.68 489.65,493.71 490.23,479.95 490.79,490.74 491.45,481.47 491.88,489.22 492.47,482.17 493.02,490.48 493.54,480.59 494.1,494.6 494.71,476.97 495.15,495.94 495.76,474.43 496.34,496.95 496.87,475.04 497.5,497.75 498.01,474.43 498.61,496.2 499.07,477.1 499.7,494.93 500.19,476.84 500.75,494.48 501.35,474.24 501.91,495.66 502.3,472.42 502.9,497.75 503.48,471.7 503.96,493 504.51,479.63 505.17,491.37 505.62,481.84 506.16,489.88 506.8,482.87 507.36,489.36 507.84,480.97 508.41,491.38 509.04,479.38 509.57,491.95 510.01,479.07 510.64,492.39 511.13,478.3 511.7,492.26 512.26,479.08 512.84,492.53 513.35,478.73 513.87,493.05 514.4,478.02 515.09,495.51 515.59,475.92 516.13,496.31 516.62,474.49 517.22,497.38 517.77,471.99 518.35,498.4 518.83,470.4 519.43,500.89 519.97,469.84 520.55,504.12 521.05,468.97 521.64,502.81 522.13,474.57 522.79,504.12 523.3,477.47 523.82,494.22 524.33,479.66 525,493.01 525.42,478.42 526,494.44 526.62,478.72 527.08,494.59 527.66,477.03 528.24,495.67 528.8,474.38 529.32,496.7 529.82,472.27 530.51,496.93 531,470.11 531.56,497.46 532.12,470.31 532.62,499.57 533.25,468.97 533.65,495.64 534.35,477.57 534.9,494.99 535.31,477.72 535.91,496.55 536.43,474.43 537.07,496.19 537.56,476.28 538.11,493.31 538.65,478.9 539.3,491.57 539.71,479.96 540.38,490.94 540.94,480.62 541.35,491.53 541.96,479.34 542.53,491.14 543.1,478.97 543.58,490.63 544.16,480.48 544.78,490.06" fill="none" stroke="#0072BD" stroke-width="3.0" stroke-linejoin="miter" stroke-miterlimit="4" stroke-linecap="butt"/>
<text x="103.92" y="544.4" text-anchor="middle" class="tk" textLength="25.46" lengthAdjust="spacingAndGlyphs">200</text>
<text x="156.75" y="544.4" text-anchor="middle" class="tk" textLength="25.46" lengthAdjust="spacingAndGlyphs">400</text>
<text x="209.57" y="544.4" text-anchor="middle" class="tk" textLength="25.46" lengthAdjust="spacingAndGlyphs">600</text>
<text x="262.39" y="544.4" text-anchor="middle" class="tk" textLength="25.46" lengthAdjust="spacingAndGlyphs">800</text>
<text x="315.22" y="544.4" text-anchor="middle" class="tk" textLength="33.95" lengthAdjust="spacingAndGlyphs">1000</text>
<text x="368.04" y="544.4" text-anchor="middle" class="tk" textLength="33.95" lengthAdjust="spacingAndGlyphs">1200</text>
<text x="420.86" y="544.4" text-anchor="middle" class="tk" textLength="33.95" lengthAdjust="spacingAndGlyphs">1400</text>
<text x="473.69" y="544.4" text-anchor="middle" class="tk" textLength="33.95" lengthAdjust="spacingAndGlyphs">1600</text>
<text x="526.51" y="544.4" text-anchor="middle" class="tk" textLength="33.95" lengthAdjust="spacingAndGlyphs">1800</text>
<text x="297.8" y="572" text-anchor="middle" class="xl" textLength="102.8" lengthAdjust="spacingAndGlyphs">Time (day)</text>
</svg>
</body></html>
